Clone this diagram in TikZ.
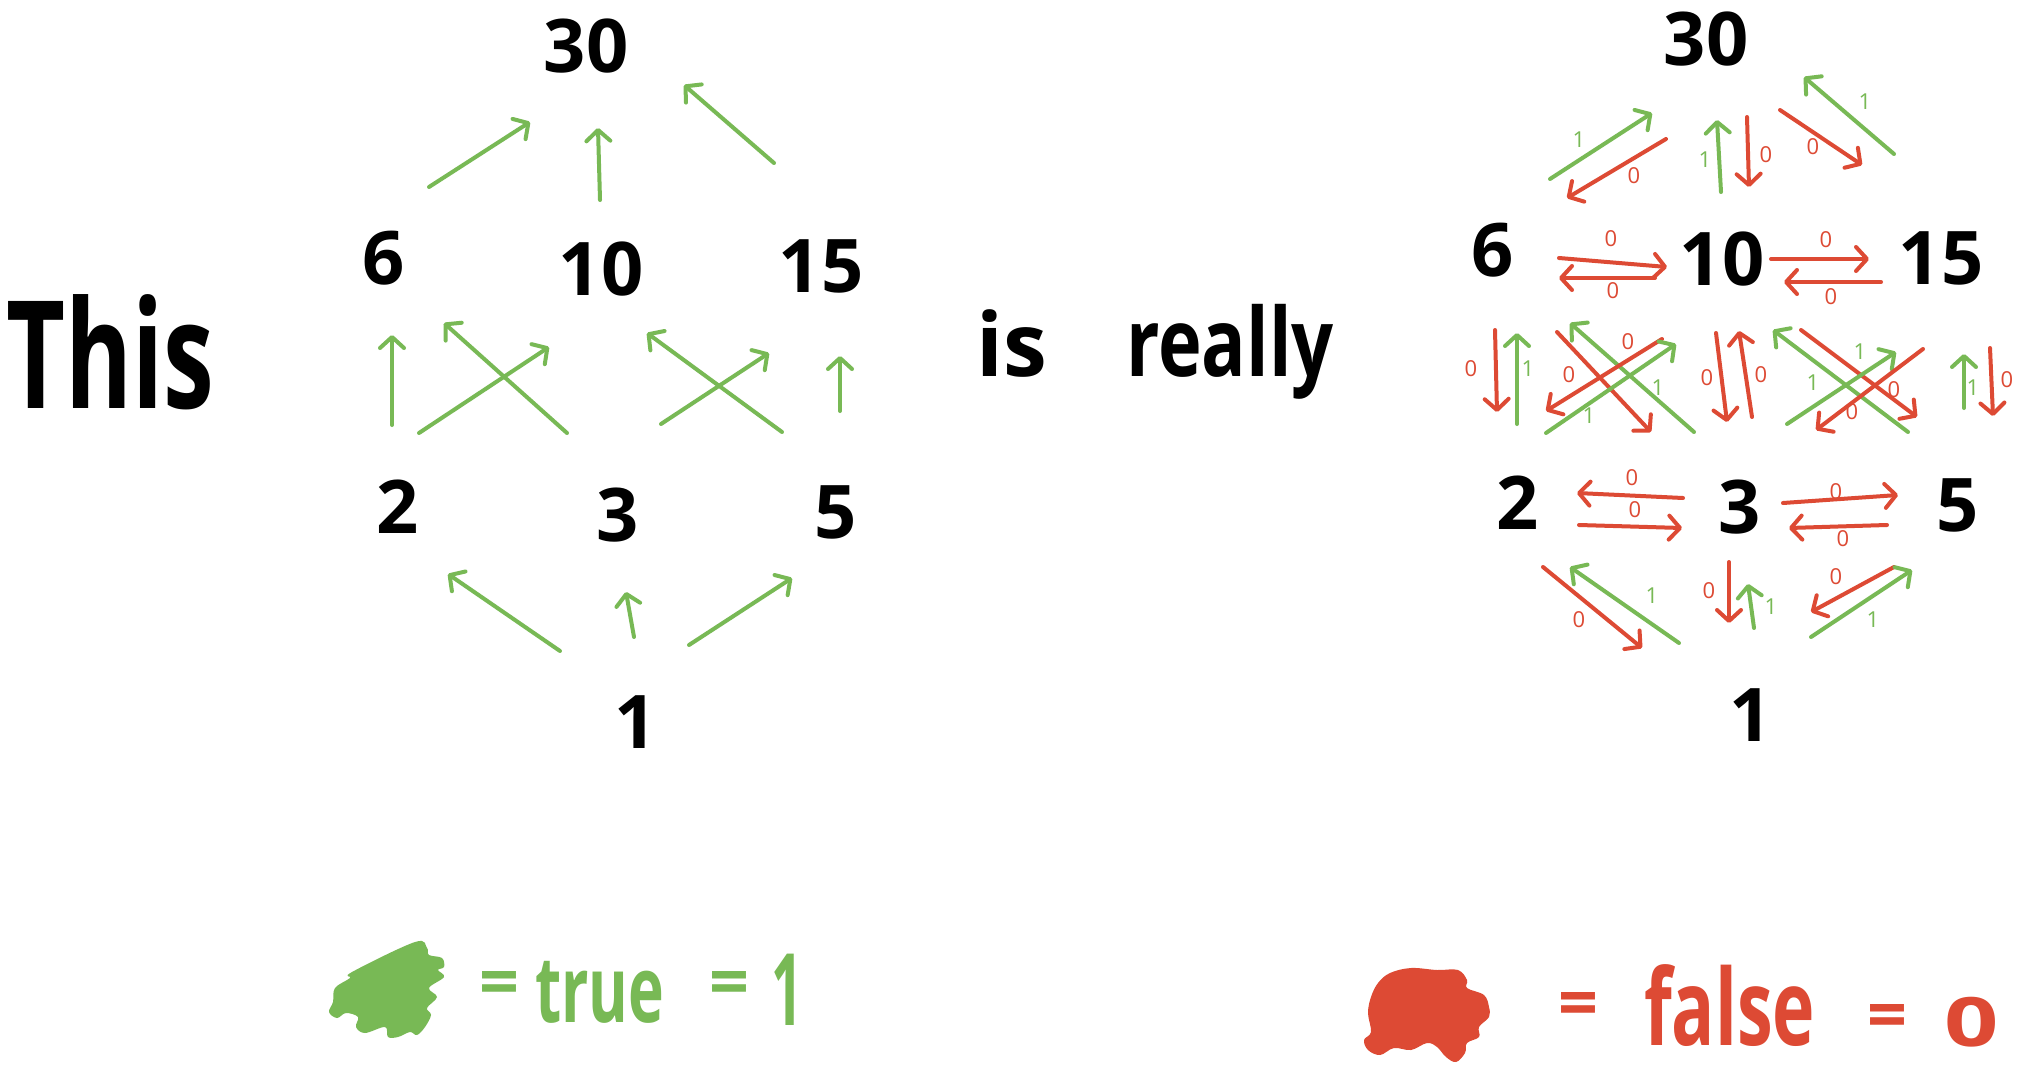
\documentclass[tikz,border=0pt]{standalone}
\usepackage{fontspec}
\setmainfont{Open Sans}
\usetikzlibrary{arrows.meta}
\definecolor{gr}{RGB}{120,185,85}
\definecolor{rd}{RGB}{221,74,52}
\tikzset{
  num/.style={inner sep=0pt, font=\fontsize{74}{80}\selectfont\bfseries},
  lab/.style={inner sep=0pt, font=\fontsize{22}{24}\selectfont},
  con/.style={line width=4pt, line cap=round, line join=round, -{Straight Barb[length=11pt,width=24pt,line cap=round,line join=round]}},
  ga/.style={con, draw=gr},
  ra/.style={con, draw=rd},
  gl/.style={lab, text=gr},
  rl/.style={lab, text=rd},
  big/.style={inner sep=0pt, anchor=base west},
}
\newcommand\arw[5]{\draw[#1] ([shift={#3}]#2.center) -- ([shift={#5}]#4.center);}
\begin{document}
\begin{tikzpicture}[x=1pt,y=-1pt]
\path[use as bounding box, fill=white] (0,0) rectangle (2035,1073);

% ---------- left lattice ----------
\node[num] (L30) at (586,46) {30};
\node[num] (L6)  at (384,258) {6};
\node[num] (L10) at (601,269) {10};
\node[num] (L15) at (821,266) {15};
\node[num] (L2)  at (398,507) {2};
\node[num] (L3)  at (618,515) {3};
\node[num] (L5)  at (836,512) {5};
\node[num] (L1)  at (636,722) {1};

\arw{ga}{L6}{(45,-71)}{L30}{(-56,76)}
\arw{ga}{L10}{(-1,-69)}{L30}{(12,82)}
\arw{ga}{L15}{(-47,-103)}{L30}{(98,39)}
\arw{ga}{L2}{(-6,-82)}{L6}{(8,77)}
\arw{ga}{L2}{(21,-74)}{L10}{(-52,78)}
\arw{ga}{L3}{(-51,-82)}{L6}{(60,65)}
\arw{ga}{L3}{(43,-91)}{L15}{(-52,87)}
\arw{ga}{L5}{(-54,-80)}{L10}{(46,64)}
\arw{ga}{L5}{(4,-101)}{L15}{(19,90)}
\arw{ga}{L1}{(-76,-71)}{L2}{(50,67)}
\arw{ga}{L1}{(-2,-85)}{L3}{(8,77)}
\arw{ga}{L1}{(53,-77)}{L5}{(-44,66)}

% ---------- words ----------
\node[big, font=\fontsize{150}{160}\selectfont\bfseries] (this) at (6,408) {\scalebox{0.68}[1]{This}};
\node[big, font=\fontsize{88}{96}\selectfont\bfseries] (is) at (976,376) {is};
\node[big, font=\fontsize{88}{96}\selectfont\bfseries] (really) at (1126,376) {\scalebox{0.84}[1.08]{really}};

% ---------- right lattice ----------
\node[num] (R30) at (1706,39) {30};
\node[num] (R6)  at (1493,250) {6};
\node[num] (R10) at (1722,259) {10};
\node[num] (R15) at (1941,258) {15};
\node[num] (R2)  at (1518,503) {2};
\node[num] (R3)  at (1740,507) {3};
\node[num] (R5)  at (1958,505) {5};
\node[num] (R1)  at (1751,715) {1};

% top layer
\arw{ga}{R6}{(57,-71)}{R30}{(-54,74)}
\arw{ra}{R30}{(-40,100)}{R6}{(74,-52)}
\arw{ga}{R10}{(-1,-67)}{R30}{(11,81)}
\arw{ra}{R30}{(41,78)}{R10}{(27,-72)}
\arw{ra}{R30}{(74,71)}{R15}{(-79,-93)}
\arw{ga}{R15}{(-47,-104)}{R30}{(98,38)}
% 6,10,15 row
\arw{ra}{R6}{(66,8)}{R10}{(-55,8)}
\arw{ra}{R10}{(-67,19)}{R6}{(66,28)}
\arw{ra}{R10}{(49,0)}{R15}{(-72,1)}
\arw{ra}{R15}{(-60,24)}{R10}{(62,23)}
% middle layer
\arw{ra}{R6}{(2,80)}{R2}{(-21,-91)}
\arw{ga}{R2}{(-1,-79)}{R6}{(24,83)}
\arw{ra}{R6}{(64,82)}{R3}{(-89,-75)}
\arw{ga}{R3}{(-46,-75)}{R6}{(77,73)}
\arw{ra}{R10}{(-60,80)}{R2}{(28,-92)}
\arw{ga}{R2}{(28,-70)}{R10}{(-46,85)}
\arw{ra}{R10}{(-6,74)}{R3}{(-13,-85)}
\arw{ra}{R3}{(12,-90)}{R10}{(17,72)}
\arw{ga}{R5}{(-50,-73)}{R10}{(51,71)}
\arw{ra}{R10}{(79,71)}{R5}{(-41,-88)}
\arw{ga}{R3}{(47,-83)}{R15}{(-45,94)}
\arw{ra}{R15}{(-18,91)}{R3}{(76,-77)}
\arw{ga}{R5}{(6,-97)}{R15}{(23,96)}
\arw{ra}{R15}{(49,90)}{R5}{(35,-89)}
% 2,3,5 row
\arw{ra}{R3}{(-57,-9)}{R2}{(59,-10)}
\arw{ra}{R2}{(61,22)}{R3}{(-58,21)}
\arw{ra}{R3}{(43,-4)}{R5}{(-60,-10)}
\arw{ra}{R5}{(-71,20)}{R3}{(49,21)}
% bottom layer
\arw{ra}{R2}{(25,64)}{R1}{(-109,-67)}
\arw{ga}{R1}{(-72,-72)}{R2}{(52,64)}
\arw{ra}{R3}{(-11,55)}{R1}{(-22,-92)}
\arw{ga}{R1}{(3,-87)}{R3}{(8,77)}
\arw{ra}{R5}{(-64,62)}{R1}{(60,-103)}
\arw{ga}{R1}{(60,-78)}{R5}{(-46,65)}

% labels
\node[gl] (ta)  at (1579,140) {1};
\node[rl] (tb)  at (1634,176) {0};
\node[gl] (tc)  at (1705,160) {1};
\node[rl] (td)  at (1766,155) {0};
\node[rl] (te)  at (1813,147) {0};
\node[gl] (tf)  at (1865,102) {1};
\node[rl] (tg)  at (1611,239) {0};
\node[rl] (th)  at (1613,291) {0};
\node[rl] (ti)  at (1826,240) {0};
\node[rl] (tj)  at (1831,297) {0};
\node[rl] (tk)  at (1471,369) {0};
\node[gl] (tl)  at (1528,369) {1};
\node[rl] (tm)  at (1569,375) {0};
\node[gl] (tn)  at (1658,388) {1};
\node[rl] (to)  at (1628,342) {0};
\node[gl] (tp)  at (1589,416) {1};
\node[rl] (tq)  at (1707,378) {0};
\node[rl] (tr)  at (1761,375) {0};
\node[gl] (ts)  at (1813,383) {1};
\node[rl] (tt)  at (1894,390) {0};
\node[gl] (tu)  at (1860,352) {1};
\node[rl] (tv)  at (1852,412) {0};
\node[gl] (tw)  at (1973,388) {1};
\node[rl] (tx)  at (2007,380) {0};
\node[rl] (ty)  at (1632,478) {0};
\node[rl] (tz)  at (1635,510) {0};
\node[rl] (taa) at (1836,492) {0};
\node[rl] (tbb) at (1843,539) {0};
\node[rl] (tcc) at (1579,620) {0};
\node[gl] (tdd) at (1652,596) {1};
\node[rl] (tee) at (1709,591) {0};
\node[gl] (tff) at (1771,607) {1};
\node[rl] (tgg) at (1836,577) {0};
\node[gl] (thh) at (1873,620) {1};

% ---------- legend ----------
\fill[gr] plot[smooth cycle, tension=0.6] coordinates {
 (415,942) (427,948) (429,955) (442,958) (444,967) (438,970) (444,977) (429,988)
 (437,997) (427,1008) (431,1015) (425,1027) (417,1035) (410,1032) (398,1037)
 (388,1037) (385,1027) (365,1033) (356,1027) (358,1017) (346,1013) (337,1018)
 (329,1012) (333,1002) (335,988) (350,978) (352,972)};
\node[inner sep=0pt, text=gr, font=\fontsize{70}{70}\selectfont\bfseries] (geq1) at (499,989) {=};
\node[big, text=gr, font=\fontsize{84}{90}\selectfont\bfseries] (true) at (535,1022) {\scalebox{0.72}[1.1]{true}};
\node[inner sep=0pt, text=gr, font=\fontsize{70}{70}\selectfont\bfseries] (geq2) at (729,989) {=};
\node[inner sep=0pt, text=gr, font=\fontsize{100}{100}\selectfont\bfseries] (one) at (787,990) {\scalebox{0.55}[1]{1}};

\fill[rd] plot[smooth cycle, tension=0.6] coordinates {
 (1411,968) (1437,970) (1458,970) (1467,980) (1467,988) (1484,995) (1489,1007)
 (1489,1017) (1479,1027) (1479,1037) (1467,1043) (1465,1053) (1456,1062)
 (1446,1057) (1437,1047) (1427,1043) (1411,1050) (1394,1048) (1380,1055)
 (1368,1050) (1364,1040) (1371,1032) (1368,1013) (1371,997) (1378,983) (1390,973)};
\node[inner sep=0pt, text=rd, font=\fontsize{70}{70}\selectfont\bfseries] (req1) at (1578,1010) {=};
\node[big, text=rd, font=\fontsize{92}{96}\selectfont\bfseries] (false) at (1644,1045) {\scalebox{0.78}[1.15]{false}};
\node[inner sep=0pt, text=rd, font=\fontsize{70}{70}\selectfont\bfseries] (req2) at (1887,1022) {=};
\node[inner sep=0pt, text=rd, font=\fontsize{68}{70}\selectfont\bfseries] (zero) at (1972,1022) {\scalebox{1.4}[1]{0}};
\end{tikzpicture}
\end{document}
